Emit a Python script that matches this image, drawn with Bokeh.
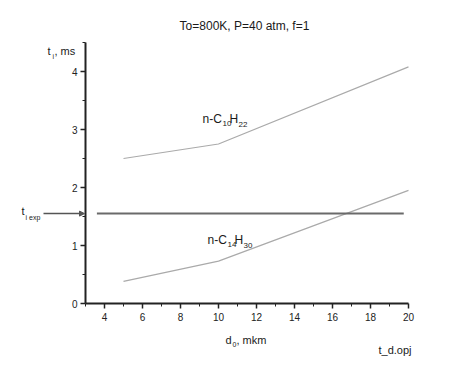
from bokeh.plotting import figure
from bokeh.models import Range1d, FixedTicker, Label, Arrow, NormalHead
from bokeh.embed import file_html
from bokeh.resources import INLINE

# ---- data ----
d0 = [5, 10, 20]                       # droplet diameter, mkm
t_c10h22 = [2.50, 2.75, 4.08]          # ignition delay, ms (n-C10H22)
t_c14h30 = [0.38, 0.73, 1.95]          # ignition delay, ms (n-C14H30)
t_exp = 1.55                           # experimental delay, ms
t_exp_x = [3.6, 19.75]                 # extent of the experimental line
x_ticks = [4, 6, 8, 10, 12, 14, 16, 18, 20]
x_minor = [3, 5, 7, 9, 11, 13, 15, 17, 19]
y_ticks = [0, 1, 2, 3, 4]
y_minor = [0.5, 1.5, 2.5, 3.5, 4.5]

X_MIN, X_MAX = 3, 20       # axis extents
Y_MIN, Y_MAX = 0, 4.5

W, H = 466, 357
AX_L, AX_T = 85, 42        # pixel position of the axes box
AX_W, AX_H = 323, 261
KX = AX_W / (X_MAX - X_MIN)
KY = AX_H / (Y_MAX - Y_MIN)

FONT = "Liberation Sans"

# the frame covers the whole canvas; axes are drawn at fixed locations
x_rng = Range1d(X_MIN - AX_L / KX, X_MAX + (W - AX_L - AX_W) / KX)
y_rng = Range1d(Y_MIN - (H - AX_T - AX_H) / KY, Y_MAX + AX_T / KY)

p = figure(width=W, height=H, output_backend="svg", toolbar_location=None,
           title=None, x_range=x_rng, y_range=y_rng,
           min_border=0, min_border_left=0, min_border_right=0,
           min_border_top=0, min_border_bottom=0)
p.outline_line_color = None
p.grid.visible = False
p.background_fill_color = "white"
p.border_fill_color = "white"

p.xaxis.fixed_location = Y_MIN
p.yaxis.fixed_location = X_MIN
p.xaxis.bounds = (X_MIN, X_MAX)
p.yaxis.bounds = (Y_MIN, Y_MAX)

for ax, tk, mn in ((p.xaxis[0], x_ticks, x_minor), (p.yaxis[0], y_ticks, y_minor)):
    ax.ticker = FixedTicker(ticks=tk, minor_ticks=mn)
    ax.axis_line_width = 2
    ax.axis_line_color = "#222222"
    ax.major_tick_line_color = "#222222"
    ax.minor_tick_line_color = "#222222"
    ax.major_tick_line_width = 1.5
    ax.minor_tick_line_width = 1
    ax.major_tick_in = 0
    ax.major_tick_out = 5
    ax.minor_tick_in = 0
    ax.minor_tick_out = 3
    ax.major_label_text_font = FONT
    ax.major_label_text_font_size = "10px"
    ax.major_label_text_color = "#222222"
p.xaxis.major_label_standoff = 4
p.yaxis.major_label_standoff = 3

# curves
p.line(d0, t_c10h22, line_color="#aaaaaa", line_width=1.2)
p.line(d0, t_c14h30, line_color="#aaaaaa", line_width=1.2)
p.line(t_exp_x, [t_exp, t_exp], line_color="#6a6a6a", line_width=2)


# picture pixel position -> data units
def dx(px):
    return X_MIN + (px - AX_L) / KX


def dy(py):
    return Y_MIN + (AX_T + AX_H - py) / KY


def txt(px, py, s, size, align="left", color="#1a1a1a"):
    p.add_layout(Label(x=dx(px), y=dy(py), text=s, text_font=FONT,
                       text_font_size=f"{size}px", text_align=align,
                       text_baseline="middle", text_color=color))


# arrow pointing to the experimental value
p.add_layout(Arrow(end=NormalHead(size=5, line_color="#555555", fill_color="#555555"),
                   x_start=dx(43), y_start=t_exp, x_end=dx(84), y_end=t_exp,
                   line_color="#555555", line_width=1.5))

# title
txt(244, 25, "To=800K, P=40 atm, f=1", 12, align="center")
# y axis label
txt(47, 50, "t", 11)
txt(52, 56, "i", 7)
txt(54, 50, ", ms", 11)
# t_i exp
txt(21, 210, "t", 11)
txt(25, 217, "i exp", 7)
# x axis label
txt(225, 339, "d", 11)
txt(232, 344, "0", 7)
txt(236, 339, ", mkm", 11)
txt(378, 349, "t_d.opj", 11)
# curve labels
txt(202, 118, "n-C", 12)
txt(222, 123, "10", 8)
txt(229, 118, "H", 12)
txt(238, 124, "22", 8)
txt(207, 239, "n-C", 12)
txt(227, 244, "14", 8)
txt(234, 239, "H", 12)
txt(243, 245, "30", 8)

open("out.html", "w").write(file_html(p, INLINE))
